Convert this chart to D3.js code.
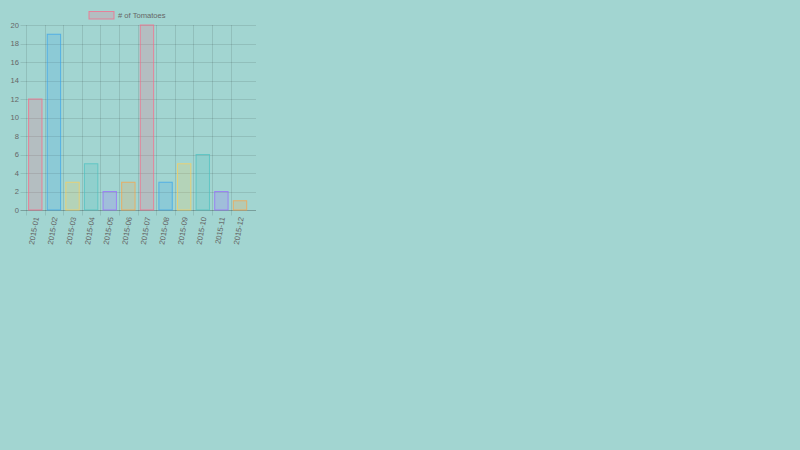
<!DOCTYPE html>
<html>
<head>
<meta charset="utf-8">
<script src="https://cdn.jsdelivr.net/npm/d3@7"></script>
<style>
  html, body { margin: 0; padding: 0; background: #a2d5d1; }
  svg { display: block; }
  text { font-family: 'Liberation Sans', Arial, Helvetica, sans-serif; fill: #666; }
</style>
</head>
<body>
<svg id="chart" width="800" height="450"></svg>
<script>
const months = ['2015-01', '2015-02', '2015-03', '2015-04', '2015-05', '2015-06',
  '2015-07', '2015-08', '2015-09', '2015-10', '2015-11', '2015-12'];
const tomatoes = [12, 19, 3, 5, 2, 3, 20, 3, 5, 6, 2, 1];
const seriesName = '# of Tomatoes';
const yTicks = [0, 2, 4, 6, 8, 10, 12, 14, 16, 18, 20];
const palette = [
  [255, 99, 132], [54, 162, 235], [255, 206, 86],
  [75, 192, 192], [153, 102, 255], [255, 159, 64]
];

const AREA = { left: 26, right: 249.3, top: 25, bottom: 210, gridRight: 256 };
const TICK = 5.5;
const FONT = 7.6;

const svg = d3.select('#chart');
const fill = (i) => { const c = palette[i % palette.length]; return `rgba(${c[0]},${c[1]},${c[2]},0.2)`; };
const stroke = (i) => { const c = palette[i % palette.length]; return `rgba(${c[0]},${c[1]},${c[2]},0.7)`; };

const x = d3.scaleBand().domain(months).range([AREA.left, AREA.right]);
const y = d3.scaleLinear().domain([0, 20]).range([AREA.bottom, AREA.top]);

// grid: horizontal lines with tick marks on the left
const grid = svg.append('g').attr('class', 'grid');
grid.selectAll('line.h')
  .data(yTicks)
  .join('line')
  .attr('class', 'h')
  .attr('x1', AREA.left - TICK)
  .attr('x2', AREA.gridRight)
  .attr('y1', (d) => Math.round(y(d)) + 0.5)
  .attr('y2', (d) => Math.round(y(d)) + 0.5)
  .attr('stroke', (d) => (d === 0 ? 'rgba(0,0,0,0.25)' : 'rgba(0,0,0,0.1)'))
  .attr('stroke-width', 1);

// vertical lines at category boundaries, extended below as tick marks
grid.selectAll('line.v')
  .data(months)
  .join('line')
  .attr('class', 'v')
  .attr('x1', (d) => Math.round(x(d)) + 0.5)
  .attr('x2', (d) => Math.round(x(d)) + 0.5)
  .attr('y1', AREA.top)
  .attr('y2', AREA.bottom + TICK)
  .attr('stroke', 'rgba(0,0,0,0.1)')
  .attr('stroke-width', 1);

// bars
const barW = x.bandwidth() * 0.8 * 0.9;
svg.append('g')
  .selectAll('rect')
  .data(tomatoes)
  .join('rect')
  .attr('x', (d, i) => x(months[i]) + (x.bandwidth() - barW) / 2)
  .attr('y', (d) => y(d))
  .attr('width', barW)
  .attr('height', (d) => y(0) - y(d))
  .attr('fill', (d, i) => fill(i))
  .attr('stroke', (d, i) => stroke(i))
  .attr('stroke-width', 1);

// y labels
svg.append('g')
  .selectAll('text')
  .data(yTicks)
  .join('text')
  .attr('x', AREA.left - TICK - 1.5)
  .attr('y', (d) => y(d))
  .attr('dy', '0.35em')
  .attr('text-anchor', 'end')
  .style('font-size', FONT + 'px')
  .text((d) => d);

// x labels, rotated
svg.append('g')
  .selectAll('text')
  .data(months)
  .join('text')
  .attr('transform', (d) => `translate(${x(d) + x.bandwidth() / 2 + 1},${AREA.bottom + 7})rotate(-80)`)
  .attr('dy', '0.35em')
  .attr('text-anchor', 'end')
  .style('font-size', FONT + 'px')
  .text((d) => d);

// legend
const legend = svg.append('g').attr('transform', 'translate(89,11.5)');
legend.append('rect')
  .attr('width', 25)
  .attr('height', 7.5)
  .attr('fill', fill(0))
  .attr('stroke', stroke(0))
  .attr('stroke-width', 1);
legend.append('text')
  .attr('x', 29)
  .attr('y', 3.75)
  .attr('dy', '0.35em')
  .style('font-size', FONT + 'px')
  .text(seriesName);
</script>
</body>
</html>
